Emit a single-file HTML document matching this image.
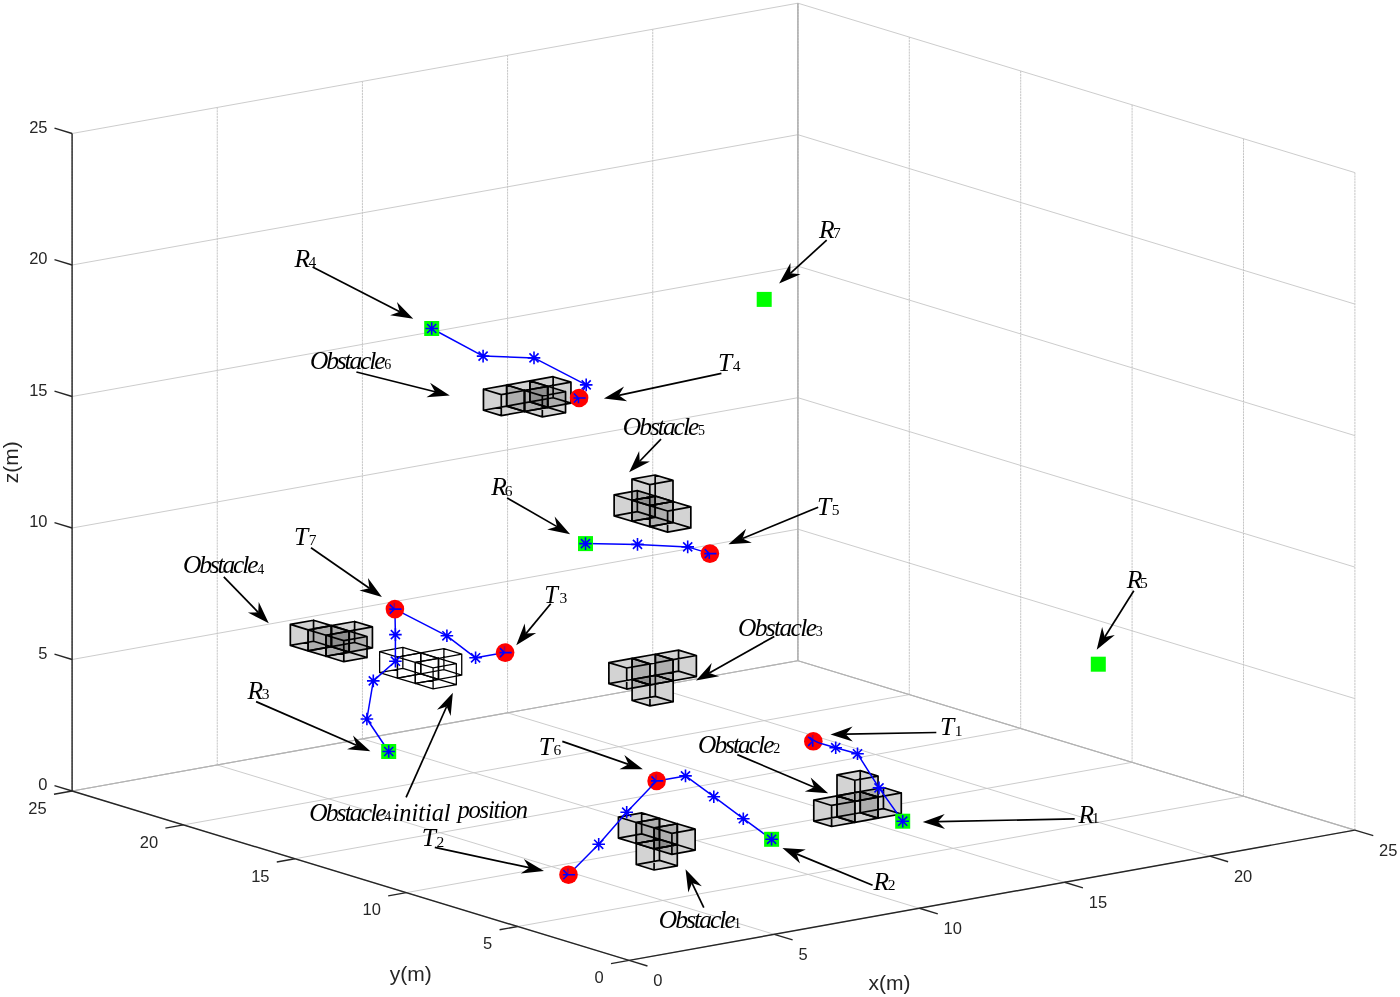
<!DOCTYPE html>
<html lang="en"><head><meta charset="utf-8"><title>3D task allocation paths with obstacles</title>
<style>
html,body{margin:0;padding:0;background:#fff;}
body{width:1400px;height:997px;overflow:hidden;}
svg{display:block;}
.g{stroke:#c6c6c6;stroke-width:0.9;fill:none;}
.gv{stroke:#bfbfbf;stroke-width:0.9;fill:none;stroke-dasharray:2.2 0.7;}
.b{stroke:#b2b2b2;stroke-width:1.15;fill:none;}
.bv{stroke:#b0b0b0;stroke-width:1.5;fill:none;}
.a{stroke:#262626;stroke-width:1.4;fill:none;stroke-linecap:butt;}
.tk text{font-family:"Liberation Sans",Arial,sans-serif;font-size:16.5px;fill:#262626;}
.al text{font-family:"Liberation Sans",Arial,sans-serif;font-size:21px;fill:#262626;}
.cb{fill:#fff;stroke:none;}
.cf{fill:#000;fill-opacity:0.092;stroke:none;}
.ce{stroke:#000;stroke-width:1.7;fill:none;stroke-linecap:round;}
.cw{stroke:#000;stroke-width:1.3;fill:none;stroke-linecap:round;}
.sq{fill:#00ff00;}
.rc{fill:#ff0000;}
.pl{stroke:#0000ff;stroke-width:1.5;fill:none;stroke-linejoin:round;}
.st{stroke:#0000ff;stroke-width:1.6;fill:none;}
.ar{stroke:#000;stroke-width:1.7;}
.ah{fill:#000;}
.lb text{fill:#000;}
.it{font-family:"Liberation Serif","Times New Roman",serif;font-style:italic;}
.sb{font-family:"Liberation Serif","Times New Roman",serif;}
</style></head>
<body>
<svg width="1400" height="997" viewBox="0 0 1400 997">
<rect width="1400" height="997" fill="#fff"/>
<g id="grid">
<line class="gv" x1="72.1" y1="791" x2="72.1" y2="133.5"/>
<line class="g" x1="72.1" y1="791" x2="797.9" y2="660.7"/>
<line class="gv" x1="1354.9" y1="830.1" x2="1354.9" y2="172.6"/>
<line class="g" x1="797.9" y1="660.7" x2="1354.9" y2="830.1"/>
<line class="g" x1="629.1" y1="960.4" x2="72.1" y2="791"/>
<line class="g" x1="629.1" y1="960.4" x2="1354.9" y2="830.1"/>
<line class="gv" x1="217.26" y1="764.94" x2="217.26" y2="107.44"/>
<line class="g" x1="72.1" y1="659.5" x2="797.9" y2="529.2"/>
<line class="gv" x1="1243.5" y1="796.22" x2="1243.5" y2="138.72"/>
<line class="g" x1="797.9" y1="529.2" x2="1354.9" y2="698.6"/>
<line class="g" x1="774.26" y1="934.34" x2="217.26" y2="764.94"/>
<line class="g" x1="517.7" y1="926.52" x2="1243.5" y2="796.22"/>
<line class="gv" x1="362.42" y1="738.88" x2="362.42" y2="81.38"/>
<line class="g" x1="72.1" y1="528" x2="797.9" y2="397.7"/>
<line class="gv" x1="1132.1" y1="762.34" x2="1132.1" y2="104.84"/>
<line class="g" x1="797.9" y1="397.7" x2="1354.9" y2="567.1"/>
<line class="g" x1="919.42" y1="908.28" x2="362.42" y2="738.88"/>
<line class="g" x1="406.3" y1="892.64" x2="1132.1" y2="762.34"/>
<line class="gv" x1="507.58" y1="712.82" x2="507.58" y2="55.32"/>
<line class="g" x1="72.1" y1="396.5" x2="797.9" y2="266.2"/>
<line class="gv" x1="1020.7" y1="728.46" x2="1020.7" y2="70.96"/>
<line class="g" x1="797.9" y1="266.2" x2="1354.9" y2="435.6"/>
<line class="g" x1="1064.58" y1="882.22" x2="507.58" y2="712.82"/>
<line class="g" x1="294.9" y1="858.76" x2="1020.7" y2="728.46"/>
<line class="gv" x1="652.74" y1="686.76" x2="652.74" y2="29.26"/>
<line class="g" x1="72.1" y1="265" x2="797.9" y2="134.7"/>
<line class="gv" x1="909.3" y1="694.58" x2="909.3" y2="37.08"/>
<line class="g" x1="797.9" y1="134.7" x2="1354.9" y2="304.1"/>
<line class="g" x1="1209.74" y1="856.16" x2="652.74" y2="686.76"/>
<line class="g" x1="183.5" y1="824.88" x2="909.3" y2="694.58"/>
<line class="gv" x1="797.9" y1="660.7" x2="797.9" y2="3.2"/>
<line class="g" x1="72.1" y1="133.5" x2="797.9" y2="3.2"/>
<line class="gv" x1="797.9" y1="660.7" x2="797.9" y2="3.2"/>
<line class="g" x1="797.9" y1="3.2" x2="1354.9" y2="172.6"/>
<line class="g" x1="1354.9" y1="830.1" x2="797.9" y2="660.7"/>
<line class="g" x1="72.1" y1="791" x2="797.9" y2="660.7"/>
</g>
<g id="backedges">
<line class="bv" x1="797.9" y1="660.7" x2="797.9" y2="3.2"/>
<line class="b" x1="72.1" y1="791" x2="797.9" y2="660.7"/>
<line class="b" x1="797.9" y1="660.7" x2="1354.9" y2="830.1"/>
</g>
<g id="axes">
<line class="a" x1="72.1" y1="791" x2="72.1" y2="133.5"/>
<line class="a" x1="72.1" y1="791" x2="629.1" y2="960.4"/>
<line class="a" x1="629.1" y1="960.4" x2="1354.9" y2="830.1"/>
<line class="a" x1="72.1" y1="791" x2="54.5" y2="785.65"/>
<line class="a" x1="629.1" y1="960.4" x2="610.99" y2="963.65"/>
<line class="a" x1="629.1" y1="960.4" x2="647.47" y2="965.99"/>
<line class="a" x1="72.1" y1="659.5" x2="54.5" y2="654.15"/>
<line class="a" x1="517.7" y1="926.52" x2="499.59" y2="929.77"/>
<line class="a" x1="774.26" y1="934.34" x2="792.63" y2="939.93"/>
<line class="a" x1="72.1" y1="528" x2="54.5" y2="522.65"/>
<line class="a" x1="406.3" y1="892.64" x2="388.19" y2="895.89"/>
<line class="a" x1="919.42" y1="908.28" x2="937.79" y2="913.87"/>
<line class="a" x1="72.1" y1="396.5" x2="54.5" y2="391.15"/>
<line class="a" x1="294.9" y1="858.76" x2="276.79" y2="862.01"/>
<line class="a" x1="1064.58" y1="882.22" x2="1082.95" y2="887.81"/>
<line class="a" x1="72.1" y1="265" x2="54.5" y2="259.65"/>
<line class="a" x1="183.5" y1="824.88" x2="165.39" y2="828.13"/>
<line class="a" x1="1209.74" y1="856.16" x2="1228.11" y2="861.75"/>
<line class="a" x1="72.1" y1="133.5" x2="54.5" y2="128.15"/>
<line class="a" x1="72.1" y1="791" x2="53.99" y2="794.25"/>
<line class="a" x1="1354.9" y1="830.1" x2="1373.27" y2="835.69"/>
</g>
<g id="ticklabels" class="tk">
<text text-anchor="end" x="47.5" y="790.25">0</text>
<text text-anchor="end" x="603.69" y="983.15">0</text>
<text text-anchor="start" x="653.27" y="985.99">0</text>
<text text-anchor="end" x="47.5" y="658.75">5</text>
<text text-anchor="end" x="492.29" y="949.27">5</text>
<text text-anchor="start" x="798.43" y="959.93">5</text>
<text text-anchor="end" x="47.5" y="527.25">10</text>
<text text-anchor="end" x="380.89" y="915.39">10</text>
<text text-anchor="start" x="943.59" y="933.87">10</text>
<text text-anchor="end" x="47.5" y="395.75">15</text>
<text text-anchor="end" x="269.49" y="881.51">15</text>
<text text-anchor="start" x="1088.75" y="907.81">15</text>
<text text-anchor="end" x="47.5" y="264.25">20</text>
<text text-anchor="end" x="158.09" y="847.63">20</text>
<text text-anchor="start" x="1233.91" y="881.75">20</text>
<text text-anchor="end" x="47.5" y="132.75">25</text>
<text text-anchor="end" x="46.69" y="813.75">25</text>
<text text-anchor="start" x="1379.07" y="855.69">25</text>
</g>
<g id="axlabels" class="al">
<text x="389.8" y="980.5">y(m)</text>
<text x="868.5" y="990.2">x(m)</text>
<text transform="translate(18,462.3) rotate(-90)" text-anchor="middle">z(m)</text>
</g>
<g id="ob6">
<polygon class="cb" points="483.45,410.26 483.45,389.22 506.68,385.05 524.5,390.47 524.5,411.51 501.28,415.68"/>
<polygon class="cb" points="506.68,406.09 506.68,385.05 529.9,380.88 547.73,386.3 547.73,407.34 524.5,411.51"/>
<polygon class="cb" points="529.9,401.92 529.9,380.88 553.13,376.71 570.95,382.13 570.95,403.17 547.73,407.34"/>
<polygon class="cb" points="524.5,411.51 524.5,390.47 547.73,386.3 565.55,391.72 565.55,412.76 542.33,416.93"/>
<polygon class="cf" points="501.28,415.68 524.5,411.51 506.68,406.09 483.45,410.26"/>
<polygon class="cf" points="501.28,394.64 524.5,390.47 506.68,385.05 483.45,389.22"/>
<polygon class="cf" points="501.28,415.68 524.5,411.51 524.5,390.47 501.28,394.64"/>
<polygon class="cf" points="483.45,410.26 506.68,406.09 506.68,385.05 483.45,389.22"/>
<polygon class="cf" points="501.28,415.68 483.45,410.26 483.45,389.22 501.28,394.64"/>
<polygon class="cf" points="524.5,411.51 506.68,406.09 506.68,385.05 524.5,390.47"/>
<polygon class="cf" points="524.5,411.51 547.73,407.34 529.9,401.92 506.68,406.09"/>
<polygon class="cf" points="524.5,390.47 547.73,386.3 529.9,380.88 506.68,385.05"/>
<polygon class="cf" points="524.5,411.51 547.73,407.34 547.73,386.3 524.5,390.47"/>
<polygon class="cf" points="506.68,406.09 529.9,401.92 529.9,380.88 506.68,385.05"/>
<polygon class="cf" points="524.5,411.51 506.68,406.09 506.68,385.05 524.5,390.47"/>
<polygon class="cf" points="547.73,407.34 529.9,401.92 529.9,380.88 547.73,386.3"/>
<polygon class="cf" points="547.73,407.34 570.95,403.17 553.13,397.75 529.9,401.92"/>
<polygon class="cf" points="547.73,386.3 570.95,382.13 553.13,376.71 529.9,380.88"/>
<polygon class="cf" points="547.73,407.34 570.95,403.17 570.95,382.13 547.73,386.3"/>
<polygon class="cf" points="529.9,401.92 553.13,397.75 553.13,376.71 529.9,380.88"/>
<polygon class="cf" points="547.73,407.34 529.9,401.92 529.9,380.88 547.73,386.3"/>
<polygon class="cf" points="570.95,403.17 553.13,397.75 553.13,376.71 570.95,382.13"/>
<polygon class="cf" points="542.33,416.93 565.55,412.76 547.73,407.34 524.5,411.51"/>
<polygon class="cf" points="542.33,395.89 565.55,391.72 547.73,386.3 524.5,390.47"/>
<polygon class="cf" points="542.33,416.93 565.55,412.76 565.55,391.72 542.33,395.89"/>
<polygon class="cf" points="524.5,411.51 547.73,407.34 547.73,386.3 524.5,390.47"/>
<polygon class="cf" points="542.33,416.93 524.5,411.51 524.5,390.47 542.33,395.89"/>
<polygon class="cf" points="565.55,412.76 547.73,407.34 547.73,386.3 565.55,391.72"/>
<path class="ce" d="M501.28,415.68 L524.5,411.51 M483.45,410.26 L506.68,406.09 M501.28,394.64 L524.5,390.47 M483.45,389.22 L506.68,385.05 M501.28,415.68 L483.45,410.26 M524.5,411.51 L506.68,406.09 M501.28,394.64 L483.45,389.22 M524.5,390.47 L506.68,385.05 M501.28,415.68 L501.28,394.64 M524.5,411.51 L524.5,390.47 M483.45,410.26 L483.45,389.22 M506.68,406.09 L506.68,385.05"/>
<path class="ce" d="M524.5,411.51 L547.73,407.34 M506.68,406.09 L529.9,401.92 M524.5,390.47 L547.73,386.3 M506.68,385.05 L529.9,380.88 M524.5,411.51 L506.68,406.09 M547.73,407.34 L529.9,401.92 M524.5,390.47 L506.68,385.05 M547.73,386.3 L529.9,380.88 M524.5,411.51 L524.5,390.47 M547.73,407.34 L547.73,386.3 M506.68,406.09 L506.68,385.05 M529.9,401.92 L529.9,380.88"/>
<path class="ce" d="M547.73,407.34 L570.95,403.17 M529.9,401.92 L553.13,397.75 M547.73,386.3 L570.95,382.13 M529.9,380.88 L553.13,376.71 M547.73,407.34 L529.9,401.92 M570.95,403.17 L553.13,397.75 M547.73,386.3 L529.9,380.88 M570.95,382.13 L553.13,376.71 M547.73,407.34 L547.73,386.3 M570.95,403.17 L570.95,382.13 M529.9,401.92 L529.9,380.88 M553.13,397.75 L553.13,376.71"/>
<path class="ce" d="M542.33,416.93 L565.55,412.76 M524.5,411.51 L547.73,407.34 M542.33,395.89 L565.55,391.72 M524.5,390.47 L547.73,386.3 M542.33,416.93 L524.5,411.51 M565.55,412.76 L547.73,407.34 M542.33,395.89 L524.5,390.47 M565.55,391.72 L547.73,386.3 M542.33,416.93 L542.33,395.89 M565.55,412.76 L565.55,391.72 M524.5,411.51 L524.5,390.47 M547.73,407.34 L547.73,386.3"/>
</g>
<g id="ob5">
<polygon class="cb" points="649.78,526.68 649.78,505.64 673,501.47 690.83,506.89 690.83,527.93 667.6,532.1"/>
<polygon class="cb" points="631.95,521.26 631.95,500.22 655.18,496.05 673,501.47 673,522.51 649.78,526.68"/>
<polygon class="cb" points="614.13,515.84 614.13,494.8 637.35,490.63 655.18,496.05 655.18,517.09 631.95,521.26"/>
<polygon class="cb" points="631.95,500.22 631.95,479.18 655.18,475.01 673,480.43 673,501.47 649.78,505.64"/>
<polygon class="cf" points="667.6,532.1 690.83,527.93 673,522.51 649.78,526.68"/>
<polygon class="cf" points="667.6,511.06 690.83,506.89 673,501.47 649.78,505.64"/>
<polygon class="cf" points="667.6,532.1 690.83,527.93 690.83,506.89 667.6,511.06"/>
<polygon class="cf" points="649.78,526.68 673,522.51 673,501.47 649.78,505.64"/>
<polygon class="cf" points="667.6,532.1 649.78,526.68 649.78,505.64 667.6,511.06"/>
<polygon class="cf" points="690.83,527.93 673,522.51 673,501.47 690.83,506.89"/>
<polygon class="cf" points="649.78,526.68 673,522.51 655.18,517.09 631.95,521.26"/>
<polygon class="cf" points="649.78,505.64 673,501.47 655.18,496.05 631.95,500.22"/>
<polygon class="cf" points="649.78,526.68 673,522.51 673,501.47 649.78,505.64"/>
<polygon class="cf" points="631.95,521.26 655.18,517.09 655.18,496.05 631.95,500.22"/>
<polygon class="cf" points="649.78,526.68 631.95,521.26 631.95,500.22 649.78,505.64"/>
<polygon class="cf" points="673,522.51 655.18,517.09 655.18,496.05 673,501.47"/>
<polygon class="cf" points="631.95,521.26 655.18,517.09 637.35,511.67 614.13,515.84"/>
<polygon class="cf" points="631.95,500.22 655.18,496.05 637.35,490.63 614.13,494.8"/>
<polygon class="cf" points="631.95,521.26 655.18,517.09 655.18,496.05 631.95,500.22"/>
<polygon class="cf" points="614.13,515.84 637.35,511.67 637.35,490.63 614.13,494.8"/>
<polygon class="cf" points="631.95,521.26 614.13,515.84 614.13,494.8 631.95,500.22"/>
<polygon class="cf" points="655.18,517.09 637.35,511.67 637.35,490.63 655.18,496.05"/>
<polygon class="cf" points="649.78,505.64 673,501.47 655.18,496.05 631.95,500.22"/>
<polygon class="cf" points="649.78,484.6 673,480.43 655.18,475.01 631.95,479.18"/>
<polygon class="cf" points="649.78,505.64 673,501.47 673,480.43 649.78,484.6"/>
<polygon class="cf" points="631.95,500.22 655.18,496.05 655.18,475.01 631.95,479.18"/>
<polygon class="cf" points="649.78,505.64 631.95,500.22 631.95,479.18 649.78,484.6"/>
<polygon class="cf" points="673,501.47 655.18,496.05 655.18,475.01 673,480.43"/>
<path class="ce" d="M667.6,532.1 L690.83,527.93 M649.78,526.68 L673,522.51 M667.6,511.06 L690.83,506.89 M649.78,505.64 L673,501.47 M667.6,532.1 L649.78,526.68 M690.83,527.93 L673,522.51 M667.6,511.06 L649.78,505.64 M690.83,506.89 L673,501.47 M667.6,532.1 L667.6,511.06 M690.83,527.93 L690.83,506.89 M649.78,526.68 L649.78,505.64 M673,522.51 L673,501.47"/>
<path class="ce" d="M649.78,526.68 L673,522.51 M631.95,521.26 L655.18,517.09 M649.78,505.64 L673,501.47 M631.95,500.22 L655.18,496.05 M649.78,526.68 L631.95,521.26 M673,522.51 L655.18,517.09 M649.78,505.64 L631.95,500.22 M673,501.47 L655.18,496.05 M649.78,526.68 L649.78,505.64 M673,522.51 L673,501.47 M631.95,521.26 L631.95,500.22 M655.18,517.09 L655.18,496.05"/>
<path class="ce" d="M631.95,521.26 L655.18,517.09 M614.13,515.84 L637.35,511.67 M631.95,500.22 L655.18,496.05 M614.13,494.8 L637.35,490.63 M631.95,521.26 L614.13,515.84 M655.18,517.09 L637.35,511.67 M631.95,500.22 L614.13,494.8 M655.18,496.05 L637.35,490.63 M631.95,521.26 L631.95,500.22 M655.18,517.09 L655.18,496.05 M614.13,515.84 L614.13,494.8 M637.35,511.67 L637.35,490.63"/>
<path class="ce" d="M649.78,505.64 L673,501.47 M631.95,500.22 L655.18,496.05 M649.78,484.6 L673,480.43 M631.95,479.18 L655.18,475.01 M649.78,505.64 L631.95,500.22 M673,501.47 L655.18,496.05 M649.78,484.6 L631.95,479.18 M673,480.43 L655.18,475.01 M649.78,505.64 L649.78,484.6 M673,501.47 L673,480.43 M631.95,500.22 L631.95,479.18 M655.18,496.05 L655.18,475.01"/>
</g>
<g id="ob4">
<polygon class="cb" points="325.98,656.28 325.98,635.24 349.2,631.07 367.03,636.49 367.03,657.53 343.8,661.7"/>
<polygon class="cb" points="308.15,650.86 308.15,629.82 331.38,625.65 349.2,631.07 349.2,652.11 325.98,656.28"/>
<polygon class="cb" points="290.33,645.44 290.33,624.4 313.55,620.23 331.38,625.65 331.38,646.69 308.15,650.86"/>
<polygon class="cb" points="331.38,646.69 331.38,625.65 354.6,621.48 372.43,626.9 372.43,647.94 349.2,652.11"/>
<polygon class="cf" points="343.8,661.7 367.03,657.53 349.2,652.11 325.98,656.28"/>
<polygon class="cf" points="343.8,640.66 367.03,636.49 349.2,631.07 325.98,635.24"/>
<polygon class="cf" points="343.8,661.7 367.03,657.53 367.03,636.49 343.8,640.66"/>
<polygon class="cf" points="325.98,656.28 349.2,652.11 349.2,631.07 325.98,635.24"/>
<polygon class="cf" points="343.8,661.7 325.98,656.28 325.98,635.24 343.8,640.66"/>
<polygon class="cf" points="367.03,657.53 349.2,652.11 349.2,631.07 367.03,636.49"/>
<polygon class="cf" points="325.98,656.28 349.2,652.11 331.38,646.69 308.15,650.86"/>
<polygon class="cf" points="325.98,635.24 349.2,631.07 331.38,625.65 308.15,629.82"/>
<polygon class="cf" points="325.98,656.28 349.2,652.11 349.2,631.07 325.98,635.24"/>
<polygon class="cf" points="308.15,650.86 331.38,646.69 331.38,625.65 308.15,629.82"/>
<polygon class="cf" points="325.98,656.28 308.15,650.86 308.15,629.82 325.98,635.24"/>
<polygon class="cf" points="349.2,652.11 331.38,646.69 331.38,625.65 349.2,631.07"/>
<polygon class="cf" points="308.15,650.86 331.38,646.69 313.55,641.27 290.33,645.44"/>
<polygon class="cf" points="308.15,629.82 331.38,625.65 313.55,620.23 290.33,624.4"/>
<polygon class="cf" points="308.15,650.86 331.38,646.69 331.38,625.65 308.15,629.82"/>
<polygon class="cf" points="290.33,645.44 313.55,641.27 313.55,620.23 290.33,624.4"/>
<polygon class="cf" points="308.15,650.86 290.33,645.44 290.33,624.4 308.15,629.82"/>
<polygon class="cf" points="331.38,646.69 313.55,641.27 313.55,620.23 331.38,625.65"/>
<polygon class="cf" points="349.2,652.11 372.43,647.94 354.6,642.52 331.38,646.69"/>
<polygon class="cf" points="349.2,631.07 372.43,626.9 354.6,621.48 331.38,625.65"/>
<polygon class="cf" points="349.2,652.11 372.43,647.94 372.43,626.9 349.2,631.07"/>
<polygon class="cf" points="331.38,646.69 354.6,642.52 354.6,621.48 331.38,625.65"/>
<polygon class="cf" points="349.2,652.11 331.38,646.69 331.38,625.65 349.2,631.07"/>
<polygon class="cf" points="372.43,647.94 354.6,642.52 354.6,621.48 372.43,626.9"/>
<path class="ce" d="M343.8,661.7 L367.03,657.53 M325.98,656.28 L349.2,652.11 M343.8,640.66 L367.03,636.49 M325.98,635.24 L349.2,631.07 M343.8,661.7 L325.98,656.28 M367.03,657.53 L349.2,652.11 M343.8,640.66 L325.98,635.24 M367.03,636.49 L349.2,631.07 M343.8,661.7 L343.8,640.66 M367.03,657.53 L367.03,636.49 M325.98,656.28 L325.98,635.24 M349.2,652.11 L349.2,631.07"/>
<path class="ce" d="M325.98,656.28 L349.2,652.11 M308.15,650.86 L331.38,646.69 M325.98,635.24 L349.2,631.07 M308.15,629.82 L331.38,625.65 M325.98,656.28 L308.15,650.86 M349.2,652.11 L331.38,646.69 M325.98,635.24 L308.15,629.82 M349.2,631.07 L331.38,625.65 M325.98,656.28 L325.98,635.24 M349.2,652.11 L349.2,631.07 M308.15,650.86 L308.15,629.82 M331.38,646.69 L331.38,625.65"/>
<path class="ce" d="M308.15,650.86 L331.38,646.69 M290.33,645.44 L313.55,641.27 M308.15,629.82 L331.38,625.65 M290.33,624.4 L313.55,620.23 M308.15,650.86 L290.33,645.44 M331.38,646.69 L313.55,641.27 M308.15,629.82 L290.33,624.4 M331.38,625.65 L313.55,620.23 M308.15,650.86 L308.15,629.82 M331.38,646.69 L331.38,625.65 M290.33,645.44 L290.33,624.4 M313.55,641.27 L313.55,620.23"/>
<path class="ce" d="M349.2,652.11 L372.43,647.94 M331.38,646.69 L354.6,642.52 M349.2,631.07 L372.43,626.9 M331.38,625.65 L354.6,621.48 M349.2,652.11 L331.38,646.69 M372.43,647.94 L354.6,642.52 M349.2,631.07 L331.38,625.65 M372.43,626.9 L354.6,621.48 M349.2,652.11 L349.2,631.07 M372.43,647.94 L372.43,626.9 M331.38,646.69 L331.38,625.65 M354.6,642.52 L354.6,621.48"/>
</g>
<g id="ob4i">
<path class="cw" d="M433.1,688.9 L456.33,684.73 M415.28,683.48 L438.5,679.31 M433.1,667.86 L456.33,663.69 M415.28,662.44 L438.5,658.27 M433.1,688.9 L415.28,683.48 M456.33,684.73 L438.5,679.31 M433.1,667.86 L415.28,662.44 M456.33,663.69 L438.5,658.27 M433.1,688.9 L433.1,667.86 M456.33,684.73 L456.33,663.69 M415.28,683.48 L415.28,662.44 M438.5,679.31 L438.5,658.27"/>
<path class="cw" d="M415.28,683.48 L438.5,679.31 M397.45,678.06 L420.68,673.89 M415.28,662.44 L438.5,658.27 M397.45,657.02 L420.68,652.85 M415.28,683.48 L397.45,678.06 M438.5,679.31 L420.68,673.89 M415.28,662.44 L397.45,657.02 M438.5,658.27 L420.68,652.85 M415.28,683.48 L415.28,662.44 M438.5,679.31 L438.5,658.27 M397.45,678.06 L397.45,657.02 M420.68,673.89 L420.68,652.85"/>
<path class="cw" d="M397.45,678.06 L420.68,673.89 M379.63,672.64 L402.85,668.47 M397.45,657.02 L420.68,652.85 M379.63,651.6 L402.85,647.43 M397.45,678.06 L379.63,672.64 M420.68,673.89 L402.85,668.47 M397.45,657.02 L379.63,651.6 M420.68,652.85 L402.85,647.43 M397.45,678.06 L397.45,657.02 M420.68,673.89 L420.68,652.85 M379.63,672.64 L379.63,651.6 M402.85,668.47 L402.85,647.43"/>
<path class="cw" d="M438.5,679.31 L461.73,675.14 M420.68,673.89 L443.9,669.72 M438.5,658.27 L461.73,654.1 M420.68,652.85 L443.9,648.68 M438.5,679.31 L420.68,673.89 M461.73,675.14 L443.9,669.72 M438.5,658.27 L420.68,652.85 M461.73,654.1 L443.9,648.68 M438.5,679.31 L438.5,658.27 M461.73,675.14 L461.73,654.1 M420.68,673.89 L420.68,652.85 M443.9,669.72 L443.9,648.68"/>
</g>
<g id="ob3">
<polygon class="cb" points="608.88,683.64 608.88,662.6 632.1,658.43 649.93,663.85 649.93,684.89 626.7,689.06"/>
<polygon class="cb" points="632.1,679.47 632.1,658.43 655.33,654.26 673.15,659.68 673.15,680.72 649.93,684.89"/>
<polygon class="cb" points="655.33,675.3 655.33,654.26 678.55,650.09 696.38,655.51 696.38,676.55 673.15,680.72"/>
<polygon class="cb" points="632.1,700.51 632.1,679.47 655.33,675.3 673.15,680.72 673.15,701.76 649.93,705.93"/>
<polygon class="cf" points="626.7,689.06 649.93,684.89 632.1,679.47 608.88,683.64"/>
<polygon class="cf" points="626.7,668.02 649.93,663.85 632.1,658.43 608.88,662.6"/>
<polygon class="cf" points="626.7,689.06 649.93,684.89 649.93,663.85 626.7,668.02"/>
<polygon class="cf" points="608.88,683.64 632.1,679.47 632.1,658.43 608.88,662.6"/>
<polygon class="cf" points="626.7,689.06 608.88,683.64 608.88,662.6 626.7,668.02"/>
<polygon class="cf" points="649.93,684.89 632.1,679.47 632.1,658.43 649.93,663.85"/>
<polygon class="cf" points="649.93,684.89 673.15,680.72 655.33,675.3 632.1,679.47"/>
<polygon class="cf" points="649.93,663.85 673.15,659.68 655.33,654.26 632.1,658.43"/>
<polygon class="cf" points="649.93,684.89 673.15,680.72 673.15,659.68 649.93,663.85"/>
<polygon class="cf" points="632.1,679.47 655.33,675.3 655.33,654.26 632.1,658.43"/>
<polygon class="cf" points="649.93,684.89 632.1,679.47 632.1,658.43 649.93,663.85"/>
<polygon class="cf" points="673.15,680.72 655.33,675.3 655.33,654.26 673.15,659.68"/>
<polygon class="cf" points="673.15,680.72 696.38,676.55 678.55,671.13 655.33,675.3"/>
<polygon class="cf" points="673.15,659.68 696.38,655.51 678.55,650.09 655.33,654.26"/>
<polygon class="cf" points="673.15,680.72 696.38,676.55 696.38,655.51 673.15,659.68"/>
<polygon class="cf" points="655.33,675.3 678.55,671.13 678.55,650.09 655.33,654.26"/>
<polygon class="cf" points="673.15,680.72 655.33,675.3 655.33,654.26 673.15,659.68"/>
<polygon class="cf" points="696.38,676.55 678.55,671.13 678.55,650.09 696.38,655.51"/>
<polygon class="cf" points="649.93,705.93 673.15,701.76 655.33,696.34 632.1,700.51"/>
<polygon class="cf" points="649.93,684.89 673.15,680.72 655.33,675.3 632.1,679.47"/>
<polygon class="cf" points="649.93,705.93 673.15,701.76 673.15,680.72 649.93,684.89"/>
<polygon class="cf" points="632.1,700.51 655.33,696.34 655.33,675.3 632.1,679.47"/>
<polygon class="cf" points="649.93,705.93 632.1,700.51 632.1,679.47 649.93,684.89"/>
<polygon class="cf" points="673.15,701.76 655.33,696.34 655.33,675.3 673.15,680.72"/>
<path class="ce" d="M626.7,689.06 L649.93,684.89 M608.88,683.64 L632.1,679.47 M626.7,668.02 L649.93,663.85 M608.88,662.6 L632.1,658.43 M626.7,689.06 L608.88,683.64 M649.93,684.89 L632.1,679.47 M626.7,668.02 L608.88,662.6 M649.93,663.85 L632.1,658.43 M626.7,689.06 L626.7,668.02 M649.93,684.89 L649.93,663.85 M608.88,683.64 L608.88,662.6 M632.1,679.47 L632.1,658.43"/>
<path class="ce" d="M649.93,684.89 L673.15,680.72 M632.1,679.47 L655.33,675.3 M649.93,663.85 L673.15,659.68 M632.1,658.43 L655.33,654.26 M649.93,684.89 L632.1,679.47 M673.15,680.72 L655.33,675.3 M649.93,663.85 L632.1,658.43 M673.15,659.68 L655.33,654.26 M649.93,684.89 L649.93,663.85 M673.15,680.72 L673.15,659.68 M632.1,679.47 L632.1,658.43 M655.33,675.3 L655.33,654.26"/>
<path class="ce" d="M673.15,680.72 L696.38,676.55 M655.33,675.3 L678.55,671.13 M673.15,659.68 L696.38,655.51 M655.33,654.26 L678.55,650.09 M673.15,680.72 L655.33,675.3 M696.38,676.55 L678.55,671.13 M673.15,659.68 L655.33,654.26 M696.38,655.51 L678.55,650.09 M673.15,680.72 L673.15,659.68 M696.38,676.55 L696.38,655.51 M655.33,675.3 L655.33,654.26 M678.55,671.13 L678.55,650.09"/>
<path class="ce" d="M649.93,705.93 L673.15,701.76 M632.1,700.51 L655.33,696.34 M649.93,684.89 L673.15,680.72 M632.1,679.47 L655.33,675.3 M649.93,705.93 L632.1,700.51 M673.15,701.76 L655.33,696.34 M649.93,684.89 L632.1,679.47 M673.15,680.72 L655.33,675.3 M649.93,705.93 L649.93,684.89 M673.15,701.76 L673.15,680.72 M632.1,700.51 L632.1,679.47 M655.33,696.34 L655.33,675.3"/>
</g>
<g id="ob2">
<polygon class="cb" points="813.78,821.08 813.78,800.04 837,795.87 854.83,801.29 854.83,822.33 831.6,826.5"/>
<polygon class="cb" points="837,816.91 837,795.87 860.23,791.7 878.05,797.12 878.05,818.16 854.83,822.33"/>
<polygon class="cb" points="860.23,812.74 860.23,791.7 883.45,787.53 901.28,792.95 901.28,813.99 878.05,818.16"/>
<polygon class="cb" points="837,795.87 837,774.83 860.23,770.66 878.05,776.08 878.05,797.12 854.83,801.29"/>
<polygon class="cf" points="831.6,826.5 854.83,822.33 837,816.91 813.78,821.08"/>
<polygon class="cf" points="831.6,805.46 854.83,801.29 837,795.87 813.78,800.04"/>
<polygon class="cf" points="831.6,826.5 854.83,822.33 854.83,801.29 831.6,805.46"/>
<polygon class="cf" points="813.78,821.08 837,816.91 837,795.87 813.78,800.04"/>
<polygon class="cf" points="831.6,826.5 813.78,821.08 813.78,800.04 831.6,805.46"/>
<polygon class="cf" points="854.83,822.33 837,816.91 837,795.87 854.83,801.29"/>
<polygon class="cf" points="854.83,822.33 878.05,818.16 860.23,812.74 837,816.91"/>
<polygon class="cf" points="854.83,801.29 878.05,797.12 860.23,791.7 837,795.87"/>
<polygon class="cf" points="854.83,822.33 878.05,818.16 878.05,797.12 854.83,801.29"/>
<polygon class="cf" points="837,816.91 860.23,812.74 860.23,791.7 837,795.87"/>
<polygon class="cf" points="854.83,822.33 837,816.91 837,795.87 854.83,801.29"/>
<polygon class="cf" points="878.05,818.16 860.23,812.74 860.23,791.7 878.05,797.12"/>
<polygon class="cf" points="878.05,818.16 901.28,813.99 883.45,808.57 860.23,812.74"/>
<polygon class="cf" points="878.05,797.12 901.28,792.95 883.45,787.53 860.23,791.7"/>
<polygon class="cf" points="878.05,818.16 901.28,813.99 901.28,792.95 878.05,797.12"/>
<polygon class="cf" points="860.23,812.74 883.45,808.57 883.45,787.53 860.23,791.7"/>
<polygon class="cf" points="878.05,818.16 860.23,812.74 860.23,791.7 878.05,797.12"/>
<polygon class="cf" points="901.28,813.99 883.45,808.57 883.45,787.53 901.28,792.95"/>
<polygon class="cf" points="854.83,801.29 878.05,797.12 860.23,791.7 837,795.87"/>
<polygon class="cf" points="854.83,780.25 878.05,776.08 860.23,770.66 837,774.83"/>
<polygon class="cf" points="854.83,801.29 878.05,797.12 878.05,776.08 854.83,780.25"/>
<polygon class="cf" points="837,795.87 860.23,791.7 860.23,770.66 837,774.83"/>
<polygon class="cf" points="854.83,801.29 837,795.87 837,774.83 854.83,780.25"/>
<polygon class="cf" points="878.05,797.12 860.23,791.7 860.23,770.66 878.05,776.08"/>
<path class="ce" d="M831.6,826.5 L854.83,822.33 M813.78,821.08 L837,816.91 M831.6,805.46 L854.83,801.29 M813.78,800.04 L837,795.87 M831.6,826.5 L813.78,821.08 M854.83,822.33 L837,816.91 M831.6,805.46 L813.78,800.04 M854.83,801.29 L837,795.87 M831.6,826.5 L831.6,805.46 M854.83,822.33 L854.83,801.29 M813.78,821.08 L813.78,800.04 M837,816.91 L837,795.87"/>
<path class="ce" d="M854.83,822.33 L878.05,818.16 M837,816.91 L860.23,812.74 M854.83,801.29 L878.05,797.12 M837,795.87 L860.23,791.7 M854.83,822.33 L837,816.91 M878.05,818.16 L860.23,812.74 M854.83,801.29 L837,795.87 M878.05,797.12 L860.23,791.7 M854.83,822.33 L854.83,801.29 M878.05,818.16 L878.05,797.12 M837,816.91 L837,795.87 M860.23,812.74 L860.23,791.7"/>
<path class="ce" d="M878.05,818.16 L901.28,813.99 M860.23,812.74 L883.45,808.57 M878.05,797.12 L901.28,792.95 M860.23,791.7 L883.45,787.53 M878.05,818.16 L860.23,812.74 M901.28,813.99 L883.45,808.57 M878.05,797.12 L860.23,791.7 M901.28,792.95 L883.45,787.53 M878.05,818.16 L878.05,797.12 M901.28,813.99 L901.28,792.95 M860.23,812.74 L860.23,791.7 M883.45,808.57 L883.45,787.53"/>
<path class="ce" d="M854.83,801.29 L878.05,797.12 M837,795.87 L860.23,791.7 M854.83,780.25 L878.05,776.08 M837,774.83 L860.23,770.66 M854.83,801.29 L837,795.87 M878.05,797.12 L860.23,791.7 M854.83,780.25 L837,774.83 M878.05,776.08 L860.23,770.66 M854.83,801.29 L854.83,780.25 M878.05,797.12 L878.05,776.08 M837,795.87 L837,774.83 M860.23,791.7 L860.23,770.66"/>
</g>
<g id="ob1">
<polygon class="cb" points="654.08,848.94 654.08,827.9 677.3,823.73 695.13,829.15 695.13,850.19 671.9,854.36"/>
<polygon class="cb" points="636.25,843.52 636.25,822.48 659.48,818.31 677.3,823.73 677.3,844.77 654.08,848.94"/>
<polygon class="cb" points="618.43,838.1 618.43,817.06 641.65,812.89 659.48,818.31 659.48,839.35 636.25,843.52"/>
<polygon class="cb" points="636.25,864.56 636.25,843.52 659.48,839.35 677.3,844.77 677.3,865.81 654.08,869.98"/>
<polygon class="cf" points="671.9,854.36 695.13,850.19 677.3,844.77 654.08,848.94"/>
<polygon class="cf" points="671.9,833.32 695.13,829.15 677.3,823.73 654.08,827.9"/>
<polygon class="cf" points="671.9,854.36 695.13,850.19 695.13,829.15 671.9,833.32"/>
<polygon class="cf" points="654.08,848.94 677.3,844.77 677.3,823.73 654.08,827.9"/>
<polygon class="cf" points="671.9,854.36 654.08,848.94 654.08,827.9 671.9,833.32"/>
<polygon class="cf" points="695.13,850.19 677.3,844.77 677.3,823.73 695.13,829.15"/>
<polygon class="cf" points="654.08,848.94 677.3,844.77 659.48,839.35 636.25,843.52"/>
<polygon class="cf" points="654.08,827.9 677.3,823.73 659.48,818.31 636.25,822.48"/>
<polygon class="cf" points="654.08,848.94 677.3,844.77 677.3,823.73 654.08,827.9"/>
<polygon class="cf" points="636.25,843.52 659.48,839.35 659.48,818.31 636.25,822.48"/>
<polygon class="cf" points="654.08,848.94 636.25,843.52 636.25,822.48 654.08,827.9"/>
<polygon class="cf" points="677.3,844.77 659.48,839.35 659.48,818.31 677.3,823.73"/>
<polygon class="cf" points="636.25,843.52 659.48,839.35 641.65,833.93 618.43,838.1"/>
<polygon class="cf" points="636.25,822.48 659.48,818.31 641.65,812.89 618.43,817.06"/>
<polygon class="cf" points="636.25,843.52 659.48,839.35 659.48,818.31 636.25,822.48"/>
<polygon class="cf" points="618.43,838.1 641.65,833.93 641.65,812.89 618.43,817.06"/>
<polygon class="cf" points="636.25,843.52 618.43,838.1 618.43,817.06 636.25,822.48"/>
<polygon class="cf" points="659.48,839.35 641.65,833.93 641.65,812.89 659.48,818.31"/>
<polygon class="cf" points="654.08,869.98 677.3,865.81 659.48,860.39 636.25,864.56"/>
<polygon class="cf" points="654.08,848.94 677.3,844.77 659.48,839.35 636.25,843.52"/>
<polygon class="cf" points="654.08,869.98 677.3,865.81 677.3,844.77 654.08,848.94"/>
<polygon class="cf" points="636.25,864.56 659.48,860.39 659.48,839.35 636.25,843.52"/>
<polygon class="cf" points="654.08,869.98 636.25,864.56 636.25,843.52 654.08,848.94"/>
<polygon class="cf" points="677.3,865.81 659.48,860.39 659.48,839.35 677.3,844.77"/>
<path class="ce" d="M671.9,854.36 L695.13,850.19 M654.08,848.94 L677.3,844.77 M671.9,833.32 L695.13,829.15 M654.08,827.9 L677.3,823.73 M671.9,854.36 L654.08,848.94 M695.13,850.19 L677.3,844.77 M671.9,833.32 L654.08,827.9 M695.13,829.15 L677.3,823.73 M671.9,854.36 L671.9,833.32 M695.13,850.19 L695.13,829.15 M654.08,848.94 L654.08,827.9 M677.3,844.77 L677.3,823.73"/>
<path class="ce" d="M654.08,848.94 L677.3,844.77 M636.25,843.52 L659.48,839.35 M654.08,827.9 L677.3,823.73 M636.25,822.48 L659.48,818.31 M654.08,848.94 L636.25,843.52 M677.3,844.77 L659.48,839.35 M654.08,827.9 L636.25,822.48 M677.3,823.73 L659.48,818.31 M654.08,848.94 L654.08,827.9 M677.3,844.77 L677.3,823.73 M636.25,843.52 L636.25,822.48 M659.48,839.35 L659.48,818.31"/>
<path class="ce" d="M636.25,843.52 L659.48,839.35 M618.43,838.1 L641.65,833.93 M636.25,822.48 L659.48,818.31 M618.43,817.06 L641.65,812.89 M636.25,843.52 L618.43,838.1 M659.48,839.35 L641.65,833.93 M636.25,822.48 L618.43,817.06 M659.48,818.31 L641.65,812.89 M636.25,843.52 L636.25,822.48 M659.48,839.35 L659.48,818.31 M618.43,838.1 L618.43,817.06 M641.65,833.93 L641.65,812.89"/>
<path class="ce" d="M654.08,869.98 L677.3,865.81 M636.25,864.56 L659.48,860.39 M654.08,848.94 L677.3,844.77 M636.25,843.52 L659.48,839.35 M654.08,869.98 L636.25,864.56 M677.3,865.81 L659.48,860.39 M654.08,848.94 L636.25,843.52 M677.3,844.77 L659.48,839.35 M654.08,869.98 L654.08,848.94 M677.3,865.81 L677.3,844.77 M636.25,864.56 L636.25,843.52 M659.48,860.39 L659.48,839.35"/>
</g>
<g id="paths">
<polyline class="pl" points="431.7,328.5 483.1,356.1 534,357.9 586.2,384.9 579.1,398"/>
<polyline class="pl" points="585.5,543.6 637.5,544.4 687.7,546.9 709.9,553.6"/>
<polyline class="pl" points="388.7,751.5 366.9,719 373.3,680.9 395.4,661.2 395.4,634.6 394.9,609.1"/>
<polyline class="pl" points="394.9,609.1 446.9,635.8 475.6,657.8 505.1,652.6"/>
<polyline class="pl" points="771.6,839.3 743.3,818.7 713.8,796.7 685.5,775.9 656.6,780.9 626.7,812.2 598.7,844.3 568.5,874.7"/>
<polyline class="pl" points="902.7,821.2 879,787.9 857.5,753.8 835.7,747.7 813.3,741.3"/>
<rect class="sq" x="424.2" y="321" width="15" height="15"/>
<rect class="sq" x="578" y="536.1" width="15" height="15"/>
<rect class="sq" x="381.2" y="744" width="15" height="15"/>
<rect class="sq" x="764.1" y="831.8" width="15" height="15"/>
<rect class="sq" x="895.2" y="813.7" width="15" height="15"/>
<rect class="sq" x="756.7" y="291.9" width="15" height="15"/>
<rect class="sq" x="1090.8" y="656.7" width="15" height="15"/>
<path class="st" d="M476.8 356.1H489.4 M483.1 349.8V362.4 M478.56 351.56L487.64 360.64 M478.56 360.64L487.64 351.56"/>
<path class="st" d="M527.7 357.9H540.3 M534 351.6V364.2 M529.46 353.36L538.54 362.44 M529.46 362.44L538.54 353.36"/>
<path class="st" d="M579.9 384.9H592.5 M586.2 378.6V391.2 M581.66 380.36L590.74 389.44 M581.66 389.44L590.74 380.36"/>
<path class="st" d="M631.2 544.4H643.8 M637.5 538.1V550.7 M632.96 539.86L642.04 548.94 M632.96 548.94L642.04 539.86"/>
<path class="st" d="M681.4 546.9H694 M687.7 540.6V553.2 M683.16 542.36L692.24 551.44 M683.16 551.44L692.24 542.36"/>
<path class="st" d="M360.6 719H373.2 M366.9 712.7V725.3 M362.36 714.46L371.44 723.54 M362.36 723.54L371.44 714.46"/>
<path class="st" d="M367 680.9H379.6 M373.3 674.6V687.2 M368.76 676.36L377.84 685.44 M368.76 685.44L377.84 676.36"/>
<path class="st" d="M389.1 661.2H401.7 M395.4 654.9V667.5 M390.86 656.66L399.94 665.74 M390.86 665.74L399.94 656.66"/>
<path class="st" d="M389.1 634.6H401.7 M395.4 628.3V640.9 M390.86 630.06L399.94 639.14 M390.86 639.14L399.94 630.06"/>
<path class="st" d="M440.6 635.8H453.2 M446.9 629.5V642.1 M442.36 631.26L451.44 640.34 M442.36 640.34L451.44 631.26"/>
<path class="st" d="M469.3 657.8H481.9 M475.6 651.5V664.1 M471.06 653.26L480.14 662.34 M471.06 662.34L480.14 653.26"/>
<path class="st" d="M737 818.7H749.6 M743.3 812.4V825 M738.76 814.16L747.84 823.24 M738.76 823.24L747.84 814.16"/>
<path class="st" d="M707.5 796.7H720.1 M713.8 790.4V803 M709.26 792.16L718.34 801.24 M709.26 801.24L718.34 792.16"/>
<path class="st" d="M679.2 775.9H691.8 M685.5 769.6V782.2 M680.96 771.36L690.04 780.44 M680.96 780.44L690.04 771.36"/>
<path class="st" d="M620.4 812.2H633 M626.7 805.9V818.5 M622.16 807.66L631.24 816.74 M622.16 816.74L631.24 807.66"/>
<path class="st" d="M592.4 844.3H605 M598.7 838V850.6 M594.16 839.76L603.24 848.84 M594.16 848.84L603.24 839.76"/>
<path class="st" d="M872.7 787.9H885.3 M879 781.6V794.2 M874.46 783.36L883.54 792.44 M874.46 792.44L883.54 783.36"/>
<path class="st" d="M851.2 753.8H863.8 M857.5 747.5V760.1 M852.96 749.26L862.04 758.34 M852.96 758.34L862.04 749.26"/>
<path class="st" d="M829.4 747.7H842 M835.7 741.4V754 M831.16 743.16L840.24 752.24 M831.16 752.24L840.24 743.16"/>
<path class="st" d="M425.4 328.5H438 M431.7 322.2V334.8 M427.16 323.96L436.24 333.04 M427.16 333.04L436.24 323.96"/>
<path class="st" d="M579.2 543.6H591.8 M585.5 537.3V549.9 M580.96 539.06L590.04 548.14 M580.96 548.14L590.04 539.06"/>
<path class="st" d="M382.4 751.5H395 M388.7 745.2V757.8 M384.16 746.96L393.24 756.04 M384.16 756.04L393.24 746.96"/>
<path class="st" d="M765.3 839.3H777.9 M771.6 833V845.6 M767.06 834.76L776.14 843.84 M767.06 843.84L776.14 834.76"/>
<path class="st" d="M896.4 821.2H909 M902.7 814.9V827.5 M898.16 816.66L907.24 825.74 M898.16 825.74L907.24 816.66"/>
<circle class="rc" cx="579.1" cy="398" r="9.3"/>
<path class="st" d="M578.5 398H573.5 M578.5 398H585.7 M578.5 398L573.96 393.46 M578.5 398L573.96 402.54"/>
<path class="st" d="M578.5 398V403.3"/>
<circle class="rc" cx="709.9" cy="553.6" r="9.3"/>
<path class="st" d="M709.3 553.6H704.3 M709.3 553.6H716.5 M709.3 553.6L704.76 549.06 M709.3 553.6L704.76 558.14"/>
<path class="st" d="M709.3 553.6V558.9"/>
<circle class="rc" cx="394.9" cy="609.1" r="9.3"/>
<path class="st" d="M394.3 609.1H389.3 M394.3 609.1H401.5 M394.3 609.1L389.76 604.56 M394.3 609.1L389.76 613.64"/>
<path class="st" opacity="0.4" d="M394.3 609.1V602.8"/>
<circle class="rc" cx="505.1" cy="652.6" r="9.3"/>
<path class="st" d="M504.5 652.6H499.5 M504.5 652.6H511.7 M504.5 652.6L499.96 648.06 M504.5 652.6L499.96 657.14"/>
<path class="st" opacity="0.4" d="M504.5 652.6V646.3"/>
<circle class="rc" cx="656.6" cy="780.9" r="9.3"/>
<path class="st" d="M656 780.9H651 M656 780.9H663.2 M656 780.9L651.46 776.36 M656 780.9L651.46 785.44"/>
<path class="st" opacity="0.4" d="M656 780.9V774.6"/>
<circle class="rc" cx="568.5" cy="874.7" r="9.3"/>
<path class="st" d="M567.9 874.7H562.9 M567.9 874.7H575.1 M567.9 874.7L563.36 870.16 M567.9 874.7L563.36 879.24"/>
<path class="st" opacity="0.4" d="M567.9 874.7V868.4"/>
<circle class="rc" cx="813.3" cy="741.3" r="9.3"/>
<path class="st" d="M812.7 741.3L808.16 736.76 M812.7 741.3L808.16 745.84 M812.7 741.3V746.8"/>
<path class="st" opacity="0.4" d="M812.7 741.3V735"/>
<path class="pl" d="M650.2 787.6L656.6 780.9"/>
<path class="pl" d="M822 743.9Q814.3 741.8 809.8 737.3"/>
</g>
<g id="arrows">
<line class="ar" x1="312.6" y1="267.1" x2="399.73" y2="311.75"/>
<polygon class="ah" points="413.26,318.68 390.08,315.23 399.73,311.75 396.92,301.88"/>
<line class="ar" x1="356.4" y1="372" x2="435.04" y2="391.7"/>
<polygon class="ah" points="449.79,395.4 426.43,397.28 435.04,391.7 430.08,382.73"/>
<line class="ar" x1="721.4" y1="373.4" x2="618.77" y2="395.31"/>
<polygon class="ah" points="603.91,398.48 624.05,386.51 618.77,395.31 627.19,401.18"/>
<line class="ar" x1="661" y1="439.2" x2="639.68" y2="461.26"/>
<polygon class="ah" points="629.12,472.19 639.16,451.01 639.68,461.26 649.94,461.44"/>
<line class="ar" x1="826.7" y1="240.2" x2="790.34" y2="273.33"/>
<polygon class="ah" points="779.1,283.57 790.46,263.07 790.34,273.33 800.57,274.16"/>
<line class="ar" x1="507.1" y1="497.9" x2="556.97" y2="526.62"/>
<polygon class="ah" points="570.15,534.2 547.17,529.62 556.97,526.62 554.65,516.62"/>
<line class="ar" x1="818.2" y1="507.2" x2="742.48" y2="538.45"/>
<polygon class="ah" points="728.43,544.25 746.09,528.85 742.48,538.45 751.81,542.72"/>
<line class="ar" x1="311" y1="547.7" x2="369.44" y2="588.26"/>
<polygon class="ah" points="381.93,596.93 359.41,590.43 369.44,588.26 367.97,578.11"/>
<line class="ar" x1="223.8" y1="576.8" x2="258.21" y2="612.36"/>
<polygon class="ah" points="268.78,623.29 247.95,612.55 258.21,612.36 258.73,602.12"/>
<line class="ar" x1="550.7" y1="603.8" x2="525.95" y2="633.61"/>
<polygon class="ah" points="516.24,645.31 524.65,623.44 525.95,633.61 536.19,633.02"/>
<line class="ar" x1="256.1" y1="701.6" x2="356.43" y2="745.29"/>
<polygon class="ah" points="370.37,751.36 347.02,749.37 356.43,745.29 353.01,735.62"/>
<line class="ar" x1="406.1" y1="797.4" x2="446.67" y2="706.51"/>
<polygon class="ah" points="452.86,692.63 450.66,715.96 446.67,706.51 436.97,709.85"/>
<line class="ar" x1="434.8" y1="847.4" x2="529.13" y2="867.69"/>
<polygon class="ah" points="543.99,870.88 520.71,873.55 529.13,867.69 523.86,858.88"/>
<line class="ar" x1="562.3" y1="741.4" x2="628.52" y2="764.35"/>
<polygon class="ah" points="642.88,769.33 619.45,769.15 628.52,764.35 624.36,754.97"/>
<line class="ar" x1="774.3" y1="636.4" x2="709.29" y2="673.03"/>
<polygon class="ah" points="696.05,680.5 711.71,663.06 709.29,673.03 719.07,676.13"/>
<line class="ar" x1="1133.8" y1="590.7" x2="1104.77" y2="636.96"/>
<polygon class="ah" points="1096.69,649.84 1102.14,627.05 1104.77,636.96 1114.84,635.02"/>
<line class="ar" x1="936.3" y1="732.5" x2="845.7" y2="734.13"/>
<polygon class="ah" points="830.5,734.41 852.56,726.51 845.7,734.13 852.83,741.51"/>
<line class="ar" x1="737.3" y1="754.6" x2="814.18" y2="787.22"/>
<polygon class="ah" points="828.17,793.16 804.8,791.39 814.18,787.22 810.66,777.58"/>
<line class="ar" x1="1074.7" y1="818.8" x2="937.9" y2="821.69"/>
<polygon class="ah" points="922.7,822.01 944.74,814.04 937.9,821.69 945.05,829.04"/>
<line class="ar" x1="872.6" y1="885.3" x2="796.48" y2="853.85"/>
<polygon class="ah" points="782.43,848.05 805.81,849.59 796.48,853.85 800.08,863.46"/>
<line class="ar" x1="703.8" y1="907.7" x2="692.06" y2="883.06"/>
<polygon class="ah" points="685.53,869.34 701.85,886.16 692.06,883.06 688.3,892.61"/>
</g>
<g id="labels" class="lb">
<text class="it" x="294.4" y="267.1" font-size="25.5">R</text>
<text class="sb" x="308.4" y="267.4" font-size="15.5">4</text>
<text class="it" x="310" y="368.7" font-size="25.5" textLength="75.5" lengthAdjust="spacing">Obstacle</text>
<text class="sb" x="384.3" y="369" font-size="14">6</text>
<text class="it" x="718" y="371" font-size="25.5">T</text>
<text class="sb" x="732.8" y="371.3" font-size="15.5">4</text>
<text class="it" x="622.8" y="434.6" font-size="25.5" textLength="76.5" lengthAdjust="spacing">Obstacle</text>
<text class="sb" x="698.1" y="434.9" font-size="14">5</text>
<text class="it" x="819.1" y="238" font-size="25.5">R</text>
<text class="sb" x="833" y="238.3" font-size="15.5">7</text>
<text class="it" x="491.3" y="495.2" font-size="25.5">R</text>
<text class="sb" x="504.7" y="495.5" font-size="15.5">6</text>
<text class="it" x="816.9" y="514.8" font-size="25.5">T</text>
<text class="sb" x="831.7" y="515.1" font-size="15.5">5</text>
<text class="it" x="294" y="544.6" font-size="25.5">T</text>
<text class="sb" x="308.8" y="544.9" font-size="15.5">7</text>
<text class="it" x="183" y="573.2" font-size="25.5" textLength="75.5" lengthAdjust="spacing">Obstacle</text>
<text class="sb" x="257.3" y="573.5" font-size="14">4</text>
<text class="it" x="544.3" y="602.5" font-size="24.6">T</text>
<text class="sb" x="559.6" y="602.8" font-size="15.5">3</text>
<text class="it" x="247.4" y="699" font-size="25.5">R</text>
<text class="sb" x="261.7" y="699.3" font-size="15.5">3</text>
<text class="it" x="309.2" y="820.5" font-size="25.5" textLength="77.5" lengthAdjust="spacing">Obstacle</text>
<text class="sb" x="384.2" y="820.8" font-size="14">4</text>
<text class="it" x="392.6" y="820.7" font-size="24.5" textLength="58" lengthAdjust="spacing">initial</text>
<text class="it" x="457.5" y="817.5" font-size="24.5" textLength="70.6" lengthAdjust="spacing">position</text>
<text class="it" x="421.8" y="846.3" font-size="25.5">T</text>
<text class="sb" x="436.6" y="846.6" font-size="15.5">2</text>
<text class="it" x="538.8" y="755" font-size="25.5">T</text>
<text class="sb" x="553.6" y="755.3" font-size="15.5">6</text>
<text class="it" x="738" y="635.6" font-size="25.5" textLength="79" lengthAdjust="spacing">Obstacle</text>
<text class="sb" x="815.8" y="635.9" font-size="14">3</text>
<text class="it" x="1126.8" y="587.7" font-size="25.5">R</text>
<text class="sb" x="1140.1" y="588" font-size="15.5">5</text>
<text class="it" x="940" y="735.4" font-size="25.5">T</text>
<text class="sb" x="954.8" y="735.7" font-size="15.5">1</text>
<text class="it" x="698" y="752.8" font-size="25.5" textLength="76.5" lengthAdjust="spacing">Obstacle</text>
<text class="sb" x="773.3" y="753.1" font-size="14">2</text>
<text class="it" x="1078.6" y="823" font-size="25.5">R</text>
<text class="sb" x="1091.7" y="823.3" font-size="15.5">1</text>
<text class="it" x="873.5" y="890.1" font-size="25.5">R</text>
<text class="sb" x="887.8" y="890.4" font-size="15.5">2</text>
<text class="it" x="658.7" y="927.9" font-size="25.5" textLength="77.1" lengthAdjust="spacing">Obstacle</text>
<text class="sb" x="734" y="928.2" font-size="14">1</text>
</g>
</svg>
</body></html>
